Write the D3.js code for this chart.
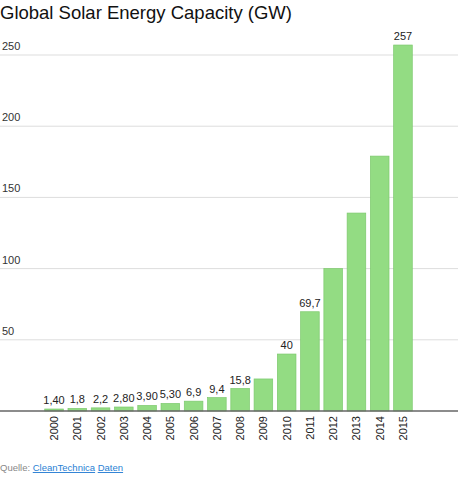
<!DOCTYPE html>
<html><head><meta charset="utf-8">
<script src="https://cdn.jsdelivr.net/npm/d3@7"></script>
<style>body{margin:0;background:#fff;font-family:"Liberation Sans",Arial,sans-serif}</style>
</head><body>
<svg id="chart" width="474" height="497"></svg>
<script>
const years = ["2000","2001","2002","2003","2004","2005","2006","2007","2008","2009","2010","2011","2012","2013","2014","2015"];
const values = [1.40,1.8,2.2,2.80,3.90,5.30,6.9,9.4,15.8,22.5,40,69.7,100,139,179,257];
const labels = ["1,40","1,8","2,2","2,80","3,90","5,30","6,9","9,4","15,8","","40","69,7","","","","257"];
const yTicks = [50,100,150,200,250];

const svg = d3.select("#chart");
const x = d3.scaleBand().domain(years).range([42.4, 414.6]).paddingInner(0.2).paddingOuter(0.1);
const y = d3.scaleLinear().domain([0, 250]).range([411, 55]);

svg.append("text").attr("x", 0).attr("y", 19).attr("font-size", 18.5).attr("fill", "#111")
  .text("Global Solar Energy Capacity (GW)");

// gridlines
svg.selectAll(".grid").data(yTicks).enter().append("line")
  .attr("x1", 0).attr("x2", 458).attr("y1", d => y(d)).attr("y2", d => y(d))
  .attr("stroke", "#ddd").attr("stroke-width", 1);
svg.selectAll(".ytl").data(yTicks).enter().append("text")
  .attr("x", 2).attr("y", d => y(d) - 5).attr("font-size", 11).attr("fill", "#333")
  .text(d => d);

svg.selectAll(".bar").data(values).enter().append("rect")
  .attr("x", (d, i) => x(years[i])).attr("width", x.bandwidth())
  .attr("y", d => y(d)).attr("height", d => y(0) - y(d))
  .attr("fill", "#93dc83").attr("stroke", "#7cc96d").attr("stroke-width", 0.7);

svg.selectAll(".vl").data(values).enter().append("text")
  .attr("x", (d, i) => x(years[i]) + x.bandwidth() / 2).attr("y", d => y(d) - 5)
  .attr("text-anchor", "middle").attr("font-size", 11).attr("fill", "#222")
  .text((d, i) => labels[i]);

svg.append("line").attr("x1", 0).attr("x2", 458).attr("y1", 411).attr("y2", 411)
  .attr("stroke", "#666").attr("stroke-width", 1.5);

svg.selectAll(".xl").data(years).enter().append("text")
  .attr("transform", d => `translate(${x(d) + x.bandwidth() / 2 + 4},416) rotate(-90)`)
  .attr("text-anchor", "end").attr("font-size", 11).attr("fill", "#222")
  .text(d => d);

const src = svg.append("text").attr("x", 0).attr("y", 471).attr("font-size", 9.5);
src.append("tspan").attr("fill", "#888").text("Quelle: ");
src.append("tspan").attr("fill", "#2a7fd4").attr("text-decoration", "underline").text("CleanTechnica");
src.append("tspan").text(" ");
src.append("tspan").attr("fill", "#2a7fd4").attr("text-decoration", "underline").text("Daten");
</script>
</body></html>
